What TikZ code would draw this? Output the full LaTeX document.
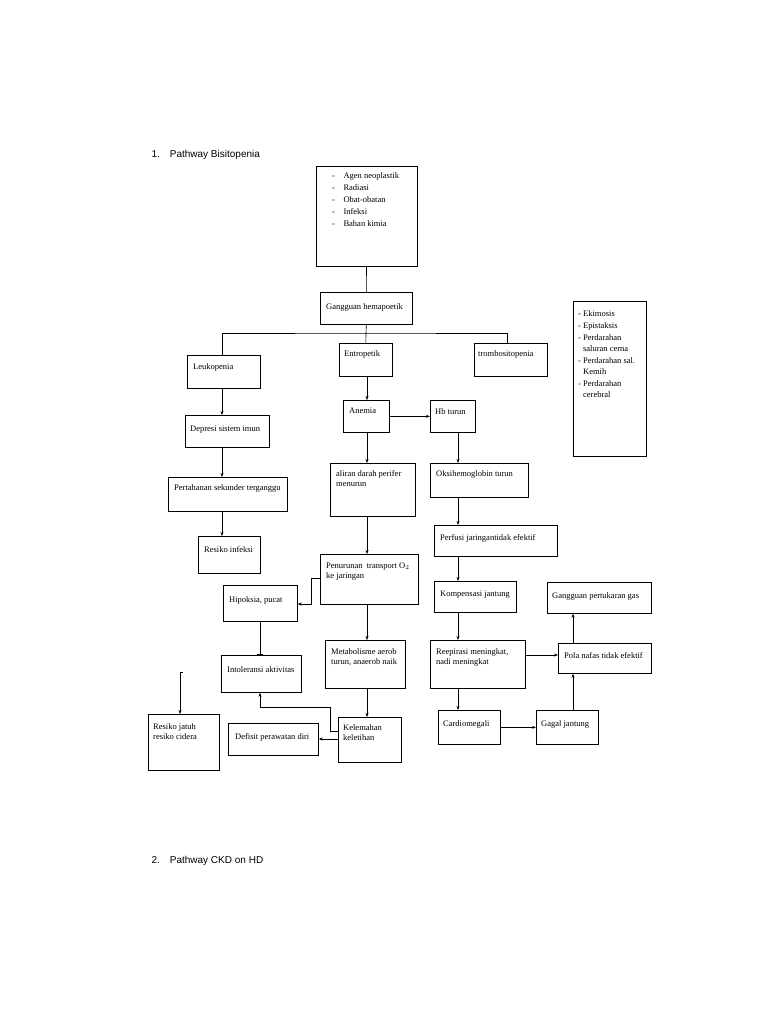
\documentclass[tikz,border=0pt]{standalone}
\usepackage{fontspec}
\setmainfont{Liberation Serif}
\newfontfamily\headfont{Liberation Sans}
\usetikzlibrary{arrows.meta}
\begin{document}
\begin{tikzpicture}[x=1pt,y=-1pt,
  bx/.style={draw,line width=0.7pt,inner sep=0pt},
  tx/.style={font=\fontsize{8.5}{10}\selectfont,align=left,anchor=north west,inner sep=0pt},
  hd/.style={font=\headfont\fontsize{10}{12}\selectfont,anchor=west},
  ar/.style={-{Stealth[length=4pt,width=3pt]},line width=0.6pt},
  ln/.style={line width=0.6pt}]
\useasboundingbox[fill=white] (0,0) rectangle (768,1024);
\node[hd] (h1) at (148,155) {1.\quad Pathway Bisitopenia};
\node[hd] (h2) at (148,861) {2.\quad Pathway CKD on HD};
\draw[line width=0.7pt] (316,166) rectangle (417,266);
\node[tx] (top) at (332,172) {-\quad Agen neoplastik\\[2pt] -\quad Radiasi\\[2pt] -\quad Obat-obatan\\[2pt] -\quad Infeksi\\[2pt] -\quad Bahan kimia};
\node[bx,minimum width=92pt,minimum height=32pt,anchor=north west] (gh) at (320,292) {};
\node[tx] at (326,303) {Gangguan hemapoetik};
\node[bx,minimum width=73pt,minimum height=33pt,anchor=north west] (leu) at (187,355) {};
\node[tx] at (193,363) {Leukopenia};
\node[bx,minimum width=53pt,minimum height=33pt,anchor=north west] (ent) at (339,343) {};
\node[tx] at (344,350) {Entropetik};
\node[bx,minimum width=73pt,minimum height=33pt,anchor=north west] (tro) at (474,343) {};
\node[tx] at (478,350) {trombositopenia};
\node[bx,minimum width=73pt,minimum height=155pt,anchor=north west] (ek) at (573,301) {};
\node[tx] at (578,310) {- Ekimosis\\[2pt]- Epistaksis\\[2pt]- Perdarahan\\[1pt]\phantom{- }saluran cerna\\[2pt]- Perdarahan sal.\\[1pt]\phantom{- }Kemih\\[2pt]- Perdarahan\\[1pt]\phantom{- }cerebral};
\node[bx,minimum width=84pt,minimum height=32pt,anchor=north west] (dep) at (185,415) {};
\node[tx] at (190,426) {Depresi sistem imun};
\node[bx,minimum width=46pt,minimum height=32pt,anchor=north west] (ane) at (343,400) {};
\node[tx] at (349,408) {Anemia};
\node[bx,minimum width=45pt,minimum height=32pt,anchor=north west] (hb) at (430,400) {};
\node[tx] at (435,408) {Hb turun};
\node[bx,minimum width=119pt,minimum height=34pt,anchor=north west] (per) at (168,477) {};
\node[tx] at (174,484) {Pertahanan sekunder terganggu};
\node[bx,minimum width=85pt,minimum height=53pt,anchor=north west] (ali) at (330,463) {};
\node[tx] at (336,470) {aliran darah perifer\\menurun};
\node[bx,minimum width=98pt,minimum height=34pt,anchor=north west] (oks) at (430,463) {};
\node[tx] at (436,470) {Oksihemoglobin turun};
\node[bx,minimum width=123pt,minimum height=31pt,anchor=north west] (prf) at (434,525) {};
\node[tx] at (440,534) {Perfusi jaringantidak efektif};
\node[bx,minimum width=62pt,minimum height=37pt,anchor=north west] (rin) at (198,536) {};
\node[tx] at (204,546) {Resiko infeksi};
\node[bx,minimum width=98pt,minimum height=50pt,anchor=north west] (pen) at (320,554) {};
\node[tx] at (326,563) {Penurunan \ transport O$_2$\\ke jaringan};
\node[bx,minimum width=74pt,minimum height=36pt,anchor=north west] (hip) at (223,585) {};
\node[tx] at (229,596) {Hipoksia, pucat};
\node[bx,minimum width=82pt,minimum height=31pt,anchor=north west] (kom) at (434,581) {};
\node[tx] at (440,591) {Kompensasi jantung};
\node[bx,minimum width=104pt,minimum height=31pt,anchor=north west] (gpg) at (547,582) {};
\node[tx] at (552,592) {Gangguan pertukaran gas};
\node[bx,minimum width=80pt,minimum height=37pt,anchor=north west] (int) at (221,655) {};
\node[tx] at (227,666) {Intoleransi aktivitas};
\node[bx,minimum width=80pt,minimum height=48pt,anchor=north west] (met) at (325,640) {};
\node[tx] at (331,648) {Metabolisme aerob\\turun, anaerob naik};
\node[bx,minimum width=95pt,minimum height=48pt,anchor=north west] (res) at (430,640) {};
\node[tx] at (436,648) {Reepirasi meningkat,\\nadi meningkat};
\node[bx,minimum width=93pt,minimum height=30pt,anchor=north west] (pol) at (558,643) {};
\node[tx] at (564,652) {Pola nafas tidak efektif};
\node[bx,minimum width=71pt,minimum height=56pt,anchor=north west] (rj) at (148,714) {};
\node[tx] at (153,723) {Resiko jatuh\\resiko cidera};
\node[bx,minimum width=90pt,minimum height=32pt,anchor=north west] (def) at (228,723) {};
\node[tx] at (235,733) {Defisit perawatan diri};
\node[bx,minimum width=63pt,minimum height=45pt,anchor=north west] (kel) at (338,717) {};
\node[tx] at (343,724) {Kelemahan\\keletihan};
\node[bx,minimum width=62pt,minimum height=34pt,anchor=north west] (car) at (438,710) {};
\node[tx] at (443,720) {Cardiomegali};
\node[bx,minimum width=62pt,minimum height=34pt,anchor=north west] (gag) at (536,710) {};
\node[tx] at (541,720) {Gagal jantung};
% connectors
\draw[ln] (366.5,266) -- (gh.north);
\draw[ln] (gh.south) -- (366,333);
\draw[ln] (222,355) |- (366,333) -| (507,343);
\draw[ln] (366,333) -- (ent.north);
\draw[ar] (leu.south -| 222,0) -- (dep.north -| 222,0);
\draw[ar] (dep.south -| 222,0) -- (per.north -| 222,0);
\draw[ar] (per.south -| 222,0) -- (rin.north -| 222,0);
\draw[ar] (ent.south -| 367,0) -- (ane.north -| 367,0);
\draw[ar] (ane) -- (hb);
\draw[ar] (ane.south -| 367,0) -- (ali.north -| 367,0);
\draw[ar] (hb.south -| 458,0) -- (oks.north -| 458,0);
\draw[ar] (oks.south -| 458,0) -- (prf.north -| 458,0);
\draw[ar] (prf.south -| 458,0) -- (kom.north -| 458,0);
\draw[ar] (kom.south -| 458,0) -- (res.north -| 458,0);
\draw[ar] (res.south -| 458,0) -- (car.north -| 458,0);
\draw[ar] (car) -- (gag);
\draw[ar] (res.east |- 0,655) -- (pol.west |- 0,655);
\draw[ar] (gag.north -| 573,0) -- (pol.south -| 573,0);
\draw[ar] (pol.north -| 573,0) -- (gpg.south -| 573,0);
\draw[ar] (ali.south -| 367,0) -- (pen.north -| 367,0);
\draw[ar] (pen.south -| 367,0) -- (met.north -| 367,0);
\draw[ar] (met.south -| 367,0) -- (kel.north -| 367,0);
\draw[ar] (pen.west |- 0,578) -- (311,578) |- (hip.east |- 0,604);
\draw[-Bar,line width=0.6pt] (hip.south -| 260,0) -- (int.north -| 260,0);
\draw[ar] (kel.west |- 0,731) -- (330,731) |- (260,707) -- (int.south -| 260,0);
\draw[ar] (kel.west |- 0,739) -- (def.east |- 0,739);
\coordinate (rjs) at (180,672);
\draw[ln] (rjs) -- ++(3,0);
\draw[ar] (rjs) -- (rj.north -| 180,0);
\end{tikzpicture}
\end{document}
